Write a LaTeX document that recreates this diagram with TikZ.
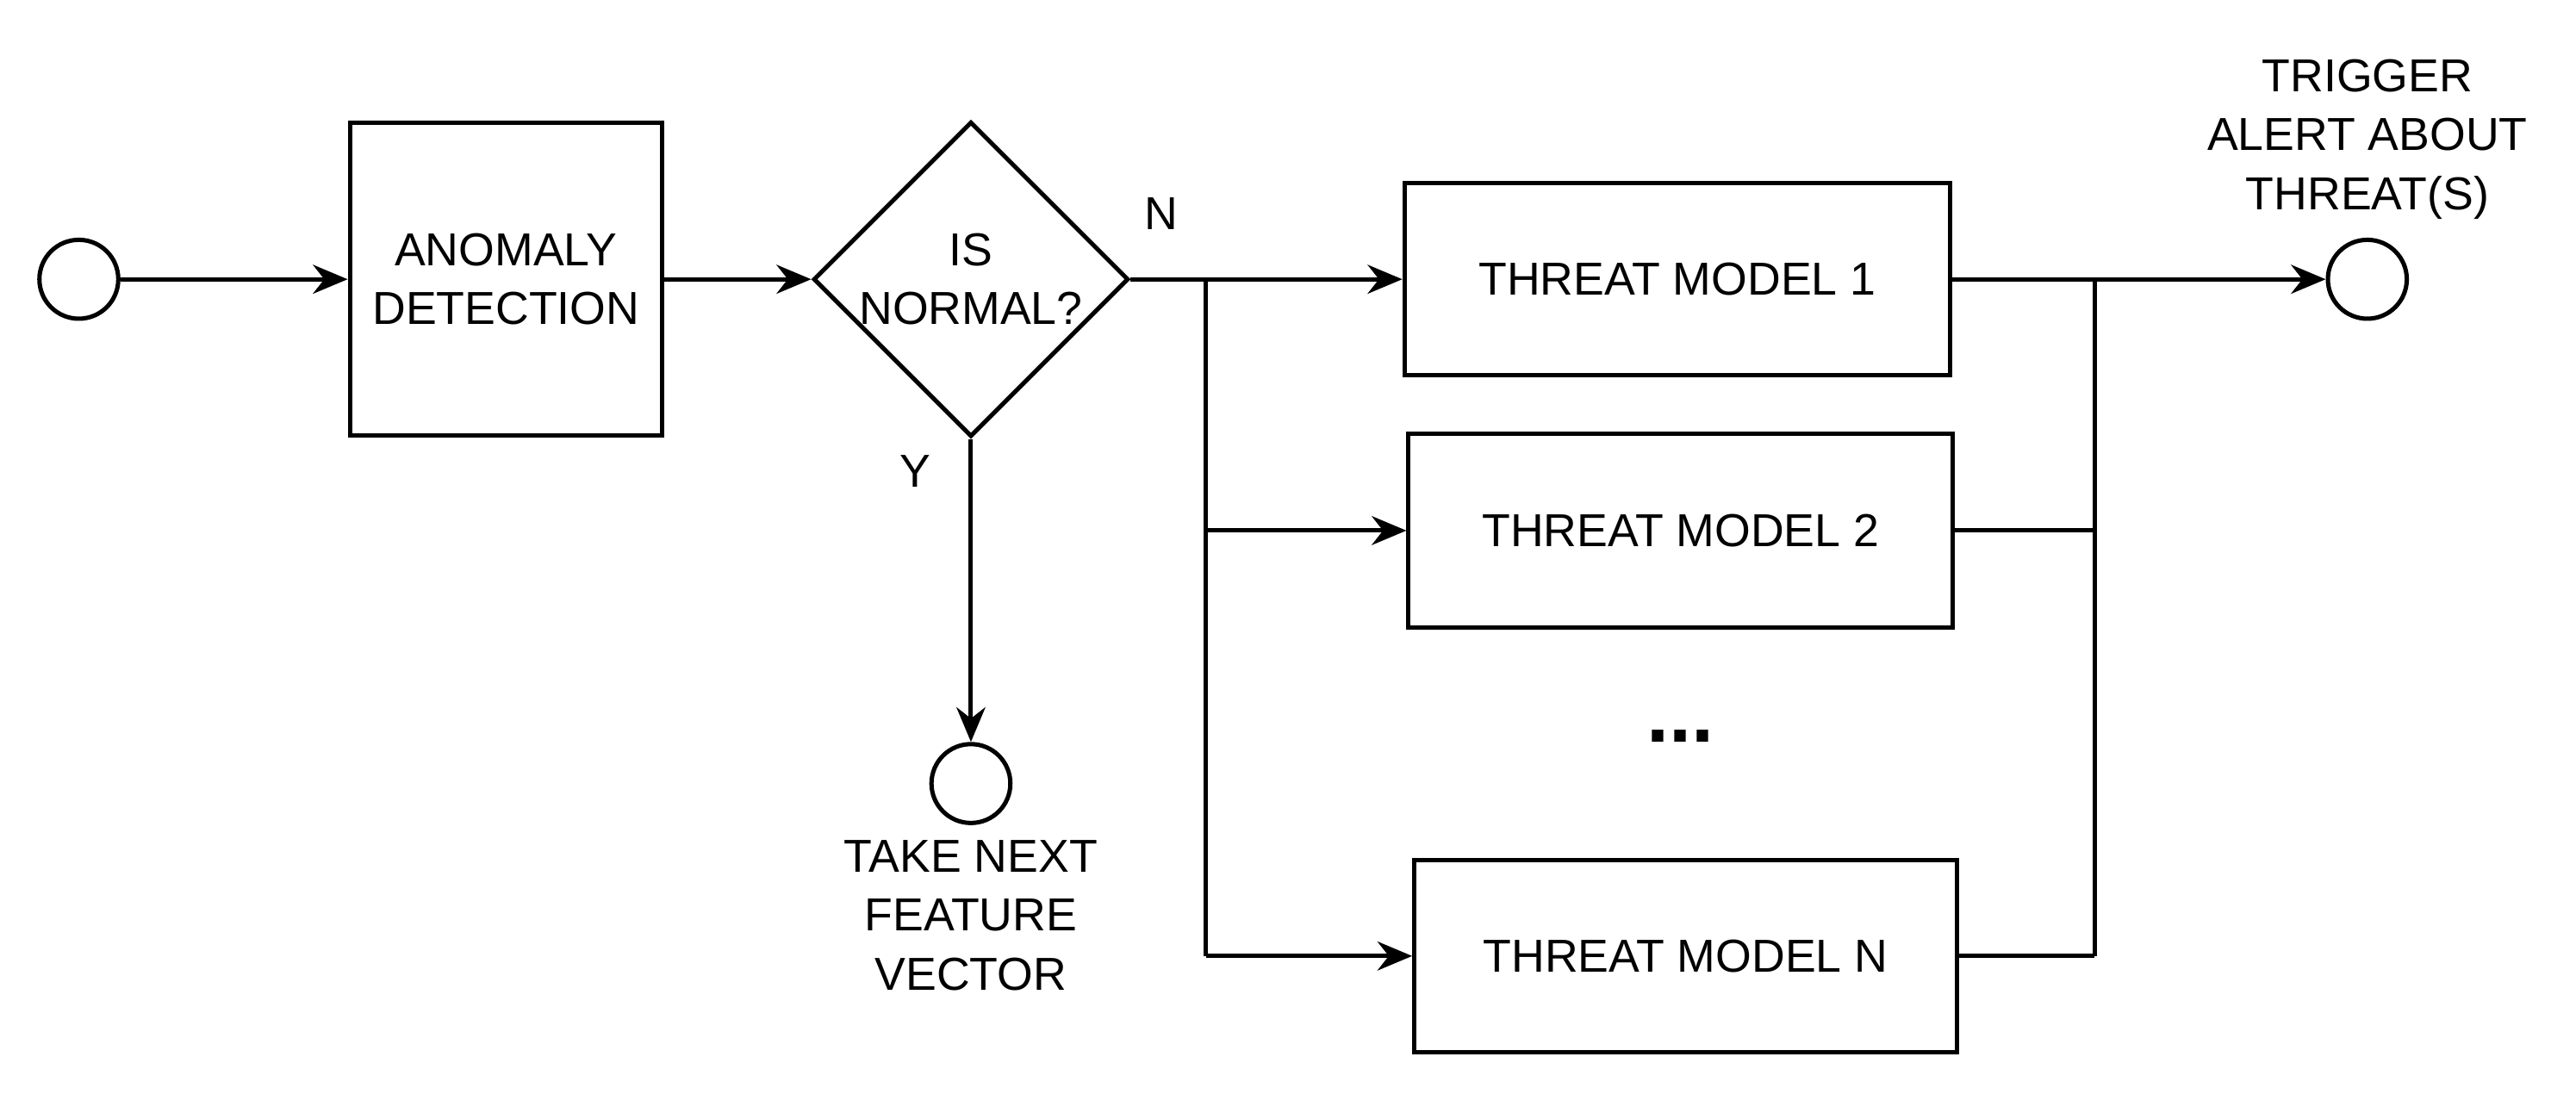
\documentclass[tikz,border=0pt]{standalone}
\usepackage{fontspec}
\setmainfont{Liberation Sans}
\usetikzlibrary{shapes.geometric,arrows.meta,positioning}
\begin{document}
\begin{tikzpicture}[
    x=0.01cm, y=-0.01cm,
    font=\fontsize{8}{10.2}\selectfont,
    line width=0.75pt,
    >={Stealth[length=6pt,width=5pt]},
    term/.style={circle, draw, minimum size=0.48cm, inner sep=0pt},
    box/.style={rectangle, draw, inner sep=0pt, align=center},
    lbl/.style={align=center, inner sep=0pt}
  ]
  \useasboundingbox (0,0) rectangle (1568,666);

  % start and anomaly detection
  \node[term] (start) at (48,170) {};
  \node[box, minimum width=1.9cm, minimum height=1.9cm] (ad) at (308,170) {ANOMALY\\DETECTION};
  \node[diamond, draw, aspect=1, minimum width=1.9cm, minimum height=1.9cm, inner sep=0pt, align=center] (dec) at (591,170) {IS\\NORMAL?};
  \node[lbl] (n) at (707,130) {N};
  \node[lbl] (y) at (557,287) {Y};

  % take next
  \node[term] (next) at (591,477) {};
  \node[lbl, below=0.08cm of next] (nexttxt) {TAKE NEXT\\FEATURE\\VECTOR};

  % threat models
  \node[box, minimum width=3.32cm, minimum height=1.17cm] (tm1) at (1021,170) {THREAT MODEL 1};
  \node[box, minimum width=3.31cm, minimum height=1.18cm] (tm2) at (1023,323) {THREAT MODEL 2};
  \node[lbl, font=\fontsize{14}{14}\selectfont] (dots) at (1023,448) {\textbf{...}};
  \node[box, minimum width=3.30cm, minimum height=1.17cm] (tmn) at (1026,582) {THREAT MODEL N};

  % end
  \node[term] (end) at (1441,170) {};
  \node[lbl, above=0.1cm of end] (endtxt) {TRIGGER\\ALERT ABOUT\\THREAT(S)};

  \coordinate (split) at (734,170);
  \coordinate (merge) at (1275,170);

  \draw[->] (start) -- (ad);
  \draw[->] (ad) -- (dec);
  \draw[->] (dec) -- (next);
  \draw[->] (dec.east) -- (tm1.west);
  \draw (split) -- (split |- tmn);
  \draw[->] (split |- tm2) -- (tm2.west);
  \draw[->] (split |- tmn) -- (tmn.west);
  \draw[->] (tm1.east) -- (end);
  \draw (tm2.east) -- (merge |- tm2);
  \draw (tmn.east) -- (merge |- tmn);
  \draw (merge) -- (merge |- tmn);
\end{tikzpicture}
\end{document}
